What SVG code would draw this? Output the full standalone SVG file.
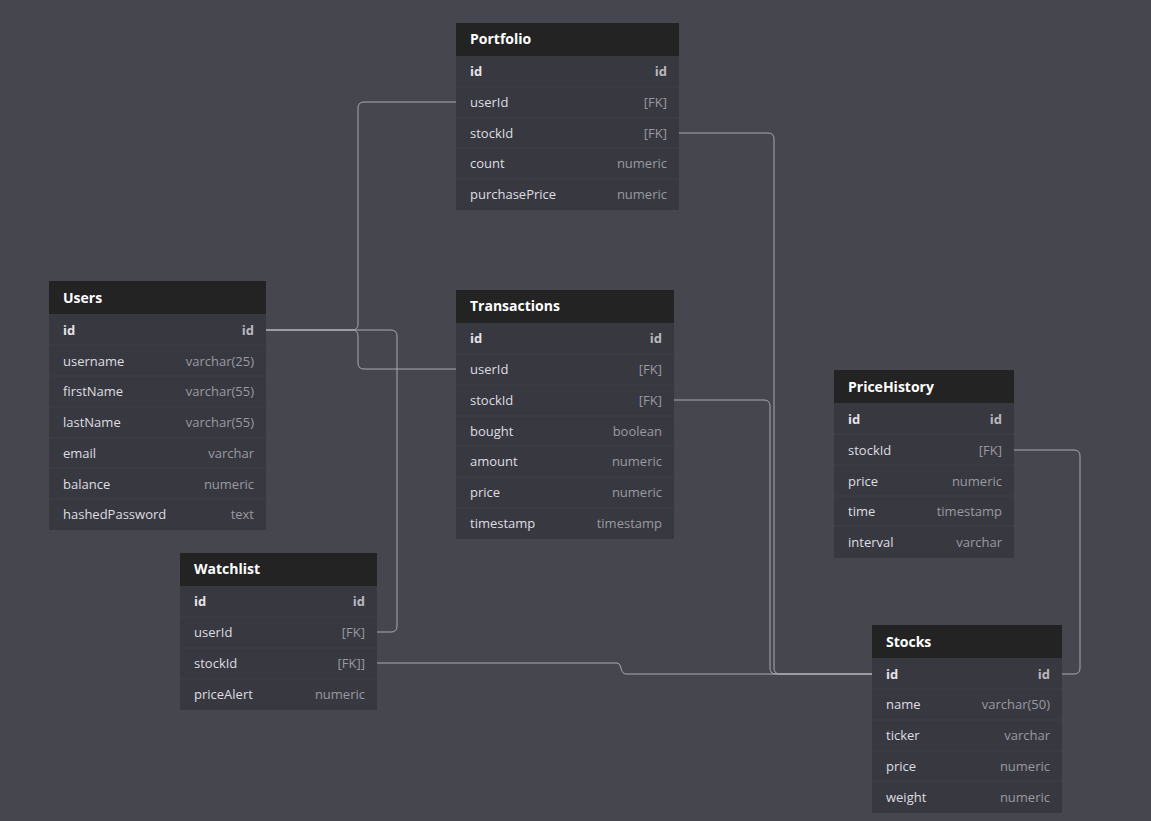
<svg xmlns="http://www.w3.org/2000/svg" width="1151" height="821" viewBox="0 0 1151 821">
<style>
.bg{fill:#46464e}
.tbl{fill:#383840}
.hdr{fill:#232323}
.sep{stroke:#3f3f47;stroke-width:1}
.title{font-family:"Open Sans","Noto Sans",sans-serif;font-size:14px;font-weight:bold;fill:#ffffff}
.f{font-family:"Open Sans","Noto Sans",sans-serif;font-size:13px;fill:#dedee2}
.fb{font-family:"Open Sans","Noto Sans",sans-serif;font-size:13px;font-weight:bold;fill:#e4e4e8}
.t{font-family:"Open Sans","Noto Sans",sans-serif;font-size:13px;fill:#9a9aa2;text-anchor:end}
.tb{font-family:"Open Sans","Noto Sans",sans-serif;font-size:13px;font-weight:bold;fill:#b8b8be;text-anchor:end}
.c{fill:none;stroke:#a9a9b1;stroke-width:1}
</style>
<rect class="bg" x="0" y="0" width="1151" height="821"/>
<g id="connectors">
<path class="c" d="M266,330 H352 Q358,330 358,324 V108 Q358,102 364,102 H456"/>
<path class="c" d="M266,330 H352 Q358,330 358,336 V363 Q358,369 364,369 H456"/>
<path class="c" d="M266,330 H391 Q397,330 397,336 V626 Q397,632 391,632 H377"/>
<path class="c" d="M679,133 H768 Q774,133 774,139 V668 Q774,674 780,674 H872"/>
<path class="c" d="M674,400 H764 Q770,400 770,406 V668 Q770,674 776,674 H872"/>
<path class="c" d="M377,663 H617 Q620,663 621,668 Q622,674 626,674 H872"/>
<path class="c" d="M1014,450 H1074 Q1080,450 1080,456 V668 Q1080,674 1074,674 H1062"/>
</g>
<g id="portfolio">
<rect class="tbl" x="456" y="23" width="223" height="187"/>
<rect class="hdr" x="456" y="23" width="223" height="33"/>
<line class="sep" x1="456" y1="87" x2="679" y2="87"/><line class="sep" x1="456" y1="118" x2="679" y2="118"/><line class="sep" x1="456" y1="148" x2="679" y2="148"/><line class="sep" x1="456" y1="179" x2="679" y2="179"/>
<text class="title" x="470" y="44">Portfolio</text>
<text class="fb" x="470" y="76">id</text><text class="tb" x="667" y="76">id</text>
<text class="f" x="470" y="107">userId</text><text class="t" x="667" y="107">[FK]</text>
<text class="f" x="470" y="138">stockId</text><text class="t" x="667" y="138">[FK]</text>
<text class="f" x="470" y="168">count</text><text class="t" x="667" y="168">numeric</text>
<text class="f" x="470" y="199">purchasePrice</text><text class="t" x="667" y="199">numeric</text>
</g>
<g id="users">
<rect class="tbl" x="49" y="281" width="217" height="249"/>
<rect class="hdr" x="49" y="281" width="217" height="33"/>
<line class="sep" x1="49" y1="345" x2="266" y2="345"/><line class="sep" x1="49" y1="376" x2="266" y2="376"/><line class="sep" x1="49" y1="407" x2="266" y2="407"/><line class="sep" x1="49" y1="438" x2="266" y2="438"/><line class="sep" x1="49" y1="468" x2="266" y2="468"/><line class="sep" x1="49" y1="499" x2="266" y2="499"/>
<text class="title" x="63" y="303">Users</text>
<text class="fb" x="63" y="335">id</text><text class="tb" x="254" y="335">id</text>
<text class="f" x="63" y="366">username</text><text class="t" x="254" y="366">varchar(25)</text>
<text class="f" x="63" y="396">firstName</text><text class="t" x="254" y="396">varchar(55)</text>
<text class="f" x="63" y="427">lastName</text><text class="t" x="254" y="427">varchar(55)</text>
<text class="f" x="63" y="458">email</text><text class="t" x="254" y="458">varchar</text>
<text class="f" x="63" y="489">balance</text><text class="t" x="254" y="489">numeric</text>
<text class="f" x="63" y="519">hashedPassword</text><text class="t" x="254" y="519">text</text>
</g>
<g id="transactions">
<rect class="tbl" x="456" y="290" width="218" height="249"/>
<rect class="hdr" x="456" y="290" width="218" height="33"/>
<line class="sep" x1="456" y1="354" x2="674" y2="354"/><line class="sep" x1="456" y1="385" x2="674" y2="385"/><line class="sep" x1="456" y1="416" x2="674" y2="416"/><line class="sep" x1="456" y1="446" x2="674" y2="446"/><line class="sep" x1="456" y1="477" x2="674" y2="477"/><line class="sep" x1="456" y1="508" x2="674" y2="508"/>
<text class="title" x="470" y="311">Transactions</text>
<text class="fb" x="470" y="343">id</text><text class="tb" x="662" y="343">id</text>
<text class="f" x="470" y="374">userId</text><text class="t" x="662" y="374">[FK]</text>
<text class="f" x="470" y="405">stockId</text><text class="t" x="662" y="405">[FK]</text>
<text class="f" x="470" y="436">bought</text><text class="t" x="662" y="436">boolean</text>
<text class="f" x="470" y="466">amount</text><text class="t" x="662" y="466">numeric</text>
<text class="f" x="470" y="497">price</text><text class="t" x="662" y="497">numeric</text>
<text class="f" x="470" y="528">timestamp</text><text class="t" x="662" y="528">timestamp</text>
</g>
<g id="pricehistory">
<rect class="tbl" x="834" y="370" width="180" height="188"/>
<rect class="hdr" x="834" y="370" width="180" height="33"/>
<line class="sep" x1="834" y1="434" x2="1014" y2="434"/><line class="sep" x1="834" y1="465" x2="1014" y2="465"/><line class="sep" x1="834" y1="496" x2="1014" y2="496"/><line class="sep" x1="834" y1="526" x2="1014" y2="526"/>
<text class="title" x="848" y="392">PriceHistory</text>
<text class="fb" x="848" y="424">id</text><text class="tb" x="1002" y="424">id</text>
<text class="f" x="848" y="455">stockId</text><text class="t" x="1002" y="455">[FK]</text>
<text class="f" x="848" y="486">price</text><text class="t" x="1002" y="486">numeric</text>
<text class="f" x="848" y="516">time</text><text class="t" x="1002" y="516">timestamp</text>
<text class="f" x="848" y="547">interval</text><text class="t" x="1002" y="547">varchar</text>
</g>
<g id="watchlist">
<rect class="tbl" x="180" y="553" width="197" height="157"/>
<rect class="hdr" x="180" y="553" width="197" height="33"/>
<line class="sep" x1="180" y1="617" x2="377" y2="617"/><line class="sep" x1="180" y1="648" x2="377" y2="648"/><line class="sep" x1="180" y1="679" x2="377" y2="679"/>
<text class="title" x="194" y="574">Watchlist</text>
<text class="fb" x="194" y="606">id</text><text class="tb" x="365" y="606">id</text>
<text class="f" x="194" y="637">userId</text><text class="t" x="365" y="637">[FK]</text>
<text class="f" x="194" y="668">stockId</text><text class="t" x="365" y="668">[FK]]</text>
<text class="f" x="194" y="699">priceAlert</text><text class="t" x="365" y="699">numeric</text>
</g>
<g id="stocks">
<rect class="tbl" x="872" y="625" width="190" height="188"/>
<rect class="hdr" x="872" y="625" width="190" height="33"/>
<line class="sep" x1="872" y1="689" x2="1062" y2="689"/><line class="sep" x1="872" y1="720" x2="1062" y2="720"/><line class="sep" x1="872" y1="751" x2="1062" y2="751"/><line class="sep" x1="872" y1="781" x2="1062" y2="781"/>
<text class="title" x="886" y="647">Stocks</text>
<text class="fb" x="886" y="679">id</text><text class="tb" x="1050" y="679">id</text>
<text class="f" x="886" y="709">name</text><text class="t" x="1050" y="709">varchar(50)</text>
<text class="f" x="886" y="740">ticker</text><text class="t" x="1050" y="740">varchar</text>
<text class="f" x="886" y="771">price</text><text class="t" x="1050" y="771">numeric</text>
<text class="f" x="886" y="802">weight</text><text class="t" x="1050" y="802">numeric</text>
</g>
</svg>
